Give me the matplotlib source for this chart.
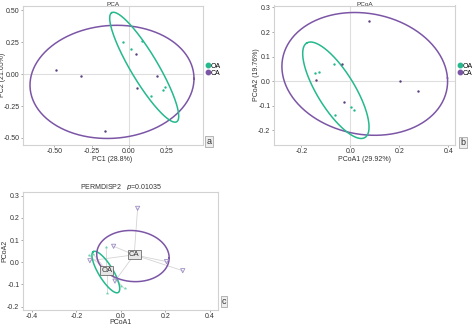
import numpy as np
import matplotlib
matplotlib.use("Agg")
import matplotlib.pyplot as plt
from matplotlib.lines import Line2D

plt.rcParams['font.family'] = ['Liberation Sans', 'DejaVu Sans']

W, H = 474, 326

# ---- data ----
groups = ["OA", "CA"]
green = "#25b98d"
purple = "#7c56a6"

# PCA scores
pc1_oa = [-0.038, 0.013, 0.087, 0.148, 0.226, 0.242]
pc2_oa = [0.250, 0.195, 0.258, -0.167, -0.120, -0.100]
pc1_ca = [-0.488, -0.320, 0.045, 0.188, 0.054, -0.159]
pc2_ca = [0.034, -0.016, 0.160, -0.013, -0.107, -0.448]

# PCoA scores
pcoa1_oa = [-0.145, -0.126, -0.066, 0.001, 0.016, -0.064]
pcoa2_oa = [0.032, 0.038, 0.070, -0.105, -0.118, -0.138]
pcoa1_ca = [-0.140, -0.033, 0.075, 0.205, 0.278, -0.027]
pcoa2_ca = [0.007, 0.072, 0.243, 0.003, -0.038, -0.085]

# ellipses: centre, first semi-axis vector, second semi-axis vector
ell_pca_oa = ((0.102, 0.055), (-0.218, 0.4275), (0.078, 0.054))
ell_pca_ca = ((-0.114, -0.060), (0.550, 0.026), (0.0, 0.443))
ell_pcoa_oa = ((-0.059, -0.0365), (-0.119, 0.192), (0.065, 0.0397))
ell_pcoa_ca = ((0.059, 0.030), (0.338, -0.017), (-0.018, 0.249))
ell_disp_oa = ((-0.068, -0.044), (-0.056, 0.092), (0.0278, 0.017))
ell_disp_ca = ((0.054, 0.028), (0.163, -0.008), (0.0, 0.115))

pca_xticks = [-0.50, -0.25, 0.00, 0.25]
pca_yticks = [-0.50, -0.25, 0.00, 0.25, 0.50]
pcoa_xticks = [-0.2, 0.0, 0.2, 0.4]
pcoa_yticks = [-0.2, -0.1, 0.0, 0.1, 0.2, 0.3]
disp_xticks = [-0.4, -0.2, 0.0, 0.2, 0.4]
disp_yticks = [-0.2, -0.1, 0.0, 0.1, 0.2, 0.3]


def ellipse_xy(params, n=200):
    (cx, cy), (ux, uy), (vx, vy) = params
    t = np.linspace(0, 2 * np.pi, n)
    return cx + ux * np.cos(t) + vx * np.sin(t), cy + uy * np.cos(t) + vy * np.sin(t)


def px_axes(fig, left, top, right, bottom):
    return fig.add_axes([left / W, 1 - bottom / H, (right - left) / W, (bottom - top) / H])


def style(ax, xlim, ylim, xt, yt, xfmt, yfmt):
    ax.set_xlim(*xlim)
    ax.set_ylim(*ylim)
    ax.set_xticks(xt)
    ax.set_yticks(yt)
    ax.set_xticklabels([xfmt.format(v).replace("\u2212", "-") for v in xt])
    ax.set_yticklabels([yfmt.format(v).replace("\u2212", "-") for v in yt])
    for s in ax.spines.values():
        s.set_color("#d2d2d2")
        s.set_linewidth(0.8)
    ax.tick_params(length=1.6, width=0.6, color="#9a9a9a", labelsize=5,
                   labelcolor="#333333", pad=0.8)
    ax.set_facecolor("white")


def place_ylabel(axx, x_px, top, bottom):
    axx.yaxis.set_label_coords(x_px / W, 1 - (top + bottom) / 2 / H,
                               transform=fig.transFigure)


def top_title(text, x_px, base_px):
    fig.text(x_px / W, 1 - base_px / H, text, fontsize=4.6, ha="center",
             va="baseline", color="#333333")


fig = plt.figure(figsize=(W / 100, H / 100), dpi=100)

# ---- a: PCA ----
ax = px_axes(fig, 22.7, 5.5, 202.5, 145)
style(ax, (-0.713, 0.493), (-0.555, 0.539), pca_xticks, pca_yticks, "{:.2f}", "{:.2f}")
ax.axhline(0, color="#dedede", lw=0.8, zorder=0)
ax.axvline(0, color="#dedede", lw=0.8, zorder=0)
ax.plot(*ellipse_xy(ell_pca_ca), color=purple, lw=1.1)
ax.plot(*ellipse_xy(ell_pca_oa), color=green, lw=1.1)
ax.scatter(pc1_oa, pc2_oa, s=3, color=green, lw=0, zorder=3)
ax.scatter(pc1_ca, pc2_ca, s=3, color="#5a3f7e", lw=0, zorder=3)
top_title("PCA", (22.7 + 202.5) / 2, 5.9)
ax.set_xlabel("PC1 (28.8%)", fontsize=5, labelpad=0.5, color="#333333")
ax.set_ylabel("PC2 (21.05%)", fontsize=5, color="#333333")
place_ylabel(ax, 6.3, 5, 145)

# ---- b: PCoA ----
bx = px_axes(fig, 273.7, 5.5, 455.3, 145)
style(bx, (-0.313, 0.429), (-0.259, 0.308), pcoa_xticks, pcoa_yticks, "{:.1f}", "{:.1f}")
bx.axhline(0, color="#dedede", lw=0.8, zorder=0)
bx.axvline(0, color="#dedede", lw=0.8, zorder=0)
bx.plot(*ellipse_xy(ell_pcoa_ca), color=purple, lw=1.1)
bx.plot(*ellipse_xy(ell_pcoa_oa), color=green, lw=1.1)
bx.scatter(pcoa1_oa, pcoa2_oa, s=3, color=green, lw=0, zorder=3)
bx.scatter(pcoa1_ca, pcoa2_ca, s=3, color="#5a3f7e", lw=0, zorder=3)
top_title("PCoA", (273.7 + 455.3) / 2, 5.9)
bx.set_xlabel("PCoA1 (29.92%)", fontsize=5, labelpad=0.5, color="#333333")
bx.set_ylabel("PCoA2 (19.76%)", fontsize=5, color="#333333")
place_ylabel(bx, 259.5, 5, 145)

# ---- c: PERMDISP2 ----
cx = px_axes(fig, 22.7, 191.7, 218.3, 310)
style(cx, (-0.442, 0.438), (-0.215, 0.318), disp_xticks, disp_yticks, "{:.1f}", "{:.1f}")
sets = [(pcoa1_oa, pcoa2_oa, "OA", "#6fd3b0", "*", ell_disp_oa, green),
        (pcoa1_ca, pcoa2_ca, "CA", "#9d8bc6", "v", ell_disp_ca, purple)]
for xs, ys, name, mcol, mk, ell, ecol in sets:
    mx, my = np.mean(xs), np.mean(ys)
    for x, y in zip(xs, ys):
        cx.plot([x, mx], [y, my], color="#d4d4d4", lw=0.6, zorder=1)
for xs, ys, name, mcol, mk, ell, ecol in sets:
    cx.plot(*ellipse_xy(ell), color=ecol, lw=1.1, zorder=2)
    if mk == "v":
        cx.scatter(xs, ys, s=9, marker="v", facecolors="none", edgecolors=mcol,
                   lw=0.6, zorder=3)
    else:
        cx.scatter(xs, ys, s=7, marker="*", color=mcol, lw=0, zorder=3)
for xs, ys, name, mcol, mk, ell, ecol in sets:
    cx.text(np.mean(xs), np.mean(ys), name, fontsize=5.5, ha="center", va="center",
            color="#333333", zorder=4,
            bbox=dict(boxstyle="square,pad=0.15", fc="#e6e6e6", ec="#555555", lw=0.5))
cx.set_title("PERMDISP2   $p$=0.01035", fontsize=5, pad=1.5, color="#333333")
cx.set_xlabel("PCoA1", fontsize=5, color="#333333")
cx.xaxis.set_label_coords(120.5 / W, 1 - 319.5 / H, transform=fig.transFigure)
cx.set_ylabel("PCoA2", fontsize=5, color="#333333")
place_ylabel(cx, 8.5, 191.7, 310)

# ---- legends ----
handles = [Line2D([], [], marker="o", ls="none", color=green, markersize=3.2),
           Line2D([], [], marker="o", ls="none", color=purple, markersize=3.2)]
for axx, xpos in ((ax, 206.5), (bx, 458)):
    axx.legend(handles, groups, loc="center left",
               bbox_to_anchor=(xpos / W, 1 - 69.7 / H), bbox_transform=fig.transFigure,
               frameon=False, fontsize=5, handlelength=0.5, handletextpad=0.15,
               labelspacing=0.05, borderpad=0, borderaxespad=0)

# ---- panel letters ----
for letter, x, y in (("a", 209, 141.5), ("b", 463, 142.5), ("c", 224, 301.5)):
    fig.text(x / W, 1 - y / H, letter, fontsize=6.5, ha="center", va="center",
             color="#333333",
             bbox=dict(boxstyle="square,pad=0.12", fc="#eeeeee", ec="#9a9a9a", lw=0.5))

fig.savefig("out.png", dpi=100)
